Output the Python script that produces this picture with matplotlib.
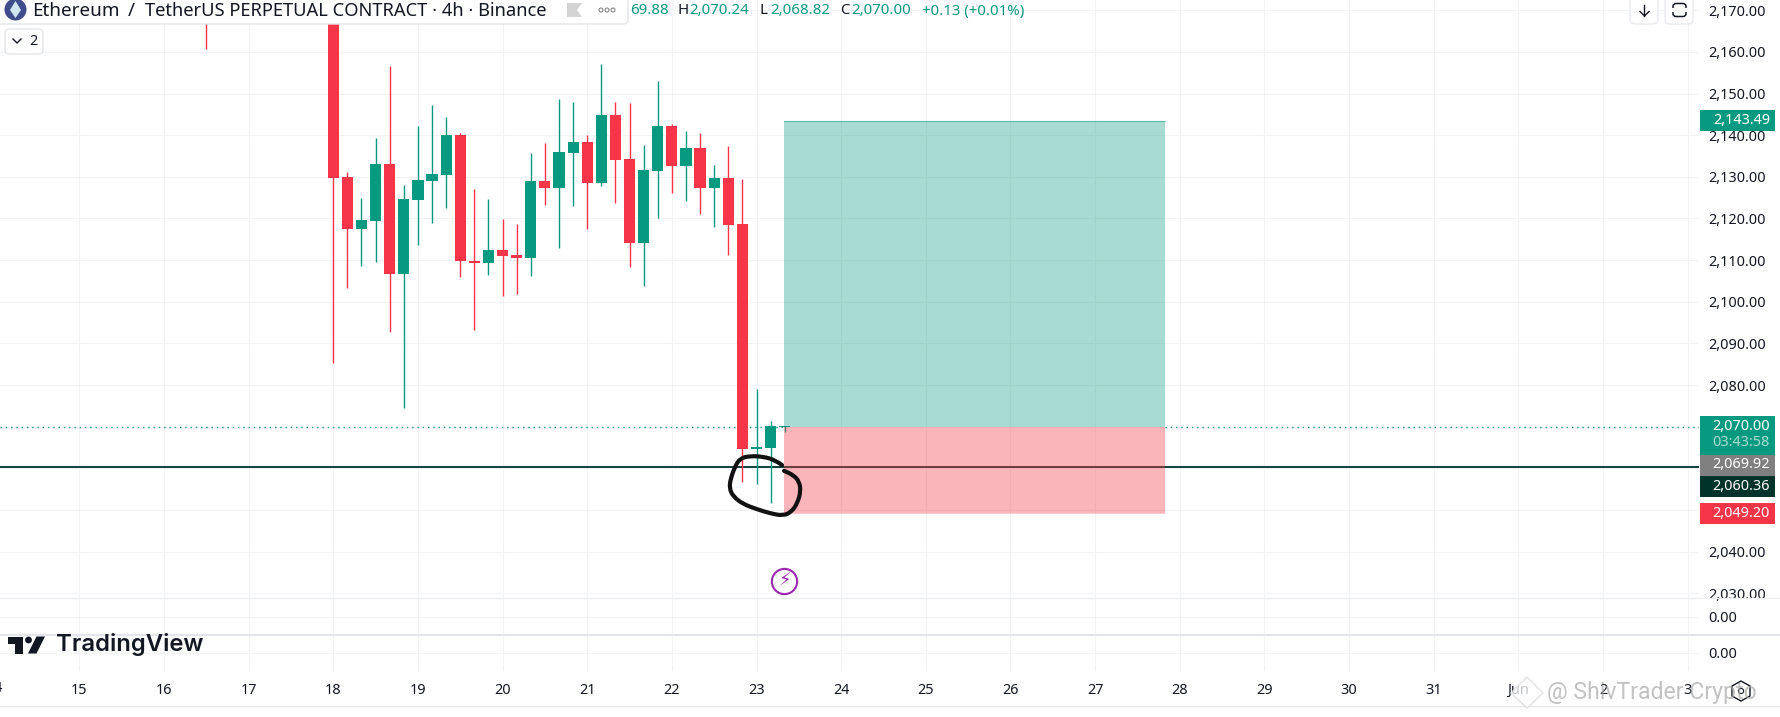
import matplotlib
matplotlib.use('Agg')
import matplotlib.pyplot as plt
from matplotlib.patches import Rectangle, Polygon, Circle, FancyBboxPatch, PathPatch
from matplotlib.path import Path

W, H = 1781, 717
GREEN = '#089981'
RED = '#f63648'
GRID = '#f2f3f5'
FONT = 'Noto Sans'

# --- chart data ---
days = [16.5] + [18 + i / 6 for i in range(33)]
opens = [2190, 2175, 2130.0, 2117.5, 2119.4, 2133.1, 2106.75, 2124.4, 2129.0, 2130.4, 2140.1, 2109.9, 2109.4,
         2112.4, 2111.2, 2110.6, 2129.0, 2127.4, 2135.7, 2138.4, 2128.5, 2144.9, 2134.3, 2114.1, 2131.4,
         2142.2, 2132.6, 2136.9, 2127.4, 2129.7, 2118.7, 2064.7, 2064.9, 2069.88]
closes = [2180, 2129.8, 2117.5, 2119.6, 2133.1, 2106.75, 2124.7, 2129.2, 2130.7, 2140.1, 2109.9, 2109.3, 2112.4,
          2111.1, 2110.6, 2129.0, 2127.4, 2136.0, 2138.4, 2128.5, 2144.9, 2134.05, 2114.1, 2131.6, 2142.2,
          2132.6, 2136.9, 2127.4, 2129.7, 2118.4, 2064.7, 2065.05, 2070.2, 2070.0]
highs = [2195, 2178, 2131.2, 2124.9, 2139.3, 2156.6, 2128.0, 2142.2, 2147.3, 2144.4, 2140.5, 2127.1, 2124.7,
         2119.9, 2118.7, 2135.7, 2138.1, 2148.7, 2148.0, 2140.1, 2157.1, 2148.0, 2147.7, 2137.6, 2153.0,
         2142.7, 2141.0, 2140.5, 2132.9, 2137.4, 2129.5, 2079.0, 2071.4, 2070.24]
lows = [2160.7, 2085.4, 2103.2, 2108.7, 2109.6, 2092.8, 2074.6, 2113.7, 2118.8, 2122.6, 2106.0, 2093.3, 2106.5,
        2101.5, 2101.9, 2106.3, 2123.3, 2112.8, 2123.1, 2117.5, 2127.9, 2123.6, 2108.4, 2103.9, 2120.2,
        2126.1, 2124.2, 2121.1, 2118.0, 2111.2, 2056.6, 2056.3, 2051.7, 2068.82]

price_ticks = list(range(2030, 2180, 10))
x_days = list(range(15, 35))
x_labels = ['15', '16', '17', '18', '19', '20', '21', '22', '23', '24', '25', '26', '27', '28', '29', '30', '31',
            'Jun', '2', '3']

last_price = 2070.00
support = 2060.36
target = 2143.49
stop = 2049.20
pos_left, pos_right = 23.33, 27.83

# hand drawn ring round the wicks
ring_days = [23.301, 23.219, 23.081, 22.923, 22.805, 22.746, 22.695, 22.679, 22.726, 22.844, 23.002, 23.159,
             23.317, 23.415, 23.482, 23.522, 23.506, 23.435, 23.325]
ring_prices = [2060.8, 2062.0, 2062.8, 2062.97, 2062.4, 2060.4, 2057.6, 2055.2, 2053.2, 2051.4, 2050.2, 2049.2,
               2048.6, 2049.6, 2051.6, 2054.4, 2056.8, 2058.4, 2059.4]
alert_day, alert_price = 23.33, 2033.0

plt.rcParams['font.family'] = [FONT, 'DejaVu Sans']
fig = plt.figure(figsize=(W / 100, H / 100), dpi=100, facecolor='white')


def px_axes(x0, y0, x1, y1):
    return fig.add_axes([x0 / W, 1 - y1 / H, (x1 - x0) / W, (y1 - y0) / H])


XLIM = (14.063, 34.134)

# --- price pane ---
ax = px_axes(0, 0, 1699, 598)
ax.set_xlim(*XLIM)
ax.set_ylim(2028.86, 2172.47)
ax.set_yticks(price_ticks)
ax.set_yticklabels([f'{p:,.2f}' for p in price_ticks], fontsize=10.4, color='#131722')
ax.set_xticks(x_days)
ax.yaxis.tick_right()
ax.tick_params(axis='y', length=0, pad=6.5)
ax.tick_params(axis='x', length=0, labelbottom=False)
ax.grid(color=GRID, linewidth=0.8)
ax.set_axisbelow(True)
for s in ax.spines.values():
    s.set_visible(False)

ax.axhline(support, color='#00332a', lw=1.3, zorder=2)
ax.plot([XLIM[0], pos_left], [last_price, last_price], color=GREEN, lw=1.0, ls=(0, (1, 2.8)), zorder=2)
ax.plot([pos_right, XLIM[1]], [last_price, last_price], color=GREEN, lw=1.0, ls=(0, (1, 2.8)), zorder=2)

# candles
for d, o, c, hi, lo in zip(days, opens, closes, highs, lows):
    col = GREEN if c >= o else RED
    ax.vlines(d, lo, hi, color=col, lw=1.0, zorder=3)
    ax.add_patch(Rectangle((d - 0.066, min(o, c)), 0.132, max(abs(c - o), 0.3), color=col, lw=0, zorder=3))

# long position box
ax.add_patch(Rectangle((pos_left, last_price), pos_right - pos_left, target - last_price,
                       facecolor=GREEN, alpha=0.35, lw=0, zorder=4))
ax.add_patch(Rectangle((pos_left, stop), pos_right - pos_left, last_price - stop,
                       facecolor='#f23645', alpha=0.37, lw=0, zorder=4))
ax.plot([pos_left, pos_right], [target, target], color=GREEN, lw=0.9, alpha=0.45, zorder=4)
ax.plot([pos_left, pos_right], [stop, stop], color=RED, lw=0.6, alpha=0.3, zorder=4)

# ring, smoothed through the midpoints
mids = [((ring_days[i] + ring_days[i + 1]) / 2, (ring_prices[i] + ring_prices[i + 1]) / 2)
        for i in range(len(ring_days) - 1)]
verts = [(ring_days[0], ring_prices[0])]
codes = [Path.MOVETO]
for i, m in enumerate(mids[:-1]):
    verts += [(ring_days[i + 1], ring_prices[i + 1]), mids[i + 1]]
    codes += [Path.CURVE3, Path.CURVE3]
verts.append((ring_days[-1], ring_prices[-1]))
codes.append(Path.LINETO)
ax.add_patch(PathPatch(Path(verts, codes), fill=False, edgecolor='#111111', lw=3.0, capstyle='round',
                       joinstyle='round', zorder=6))

# alert icon
ax.scatter([alert_day], [alert_price], s=330, facecolor='white', edgecolor='#9c27b0', linewidth=1.5, zorder=6)
ax.text(alert_day, alert_price, '\u26a1', family='DejaVu Sans', fontsize=13, fontweight='bold', color='#9c27b0',
        ha='center', va='center', zorder=7)

# --- empty lower panes ---
for (y0, y1, zero_px) in [(598, 634.7, 617), (634.7, 670.7, 653)]:
    p = px_axes(0, y0, 1699, y1)
    p.set_xlim(*XLIM)
    p.set_ylim(-(y1 - zero_px), zero_px - y0)
    p.set_yticks([0])
    p.set_yticklabels(['0.00'], fontsize=10.4, color='#131722')
    p.set_xticks(x_days)
    p.yaxis.tick_right()
    p.tick_params(axis='y', length=0, pad=6.5)
    p.tick_params(axis='x', length=0, labelbottom=False)
    p.grid(color=GRID, linewidth=0.8)
    for s in p.spines.values():
        s.set_visible(False)
    bottom = p
bottom.set_xticklabels(x_labels)
bottom.tick_params(axis='x', labelbottom=True, labelsize=10.4, labelcolor='#131722', pad=8.5)
for lab in bottom.get_xticklabels():
    if lab.get_text() == 'Jun':
        lab.set_fontweight('bold')

# --- page furniture drawn in pixel coordinates ---
ov = fig.add_axes([0, 0, 1, 1], facecolor='none')
ov.set_xlim(0, W)
ov.set_ylim(H, 0)
ov.axis('off')

for y, col, lw in [(598, '#eceef2', 0.9), (634.7, '#e3e5ea', 1.6), (705.7, '#e6e8ec', 1.0)]:
    ov.plot([0, W], [y, y], color=col, lw=lw)

ov.text(-5, 689, '14', fontsize=10.4, color='#131722', ha='center', va='center')

# price labels
for y0, y1, col in [(110, 130.7, GREEN), (416, 455, GREEN), (455, 476, '#808080'), (476, 496.7, '#00332a'),
                    (503, 524, RED)]:
    ov.add_patch(Rectangle((1700, y0), 75, y1 - y0, facecolor=col, lw=0, zorder=5))
for y, txt, col in [(120.3, f'{target:,.2f}', 'white'), (426, f'{last_price:,.2f}', 'white'),
                    (443, '03:43:58', '#a6dcd2'), (465, '2,069.92', 'white'), (486, f'{support:,.2f}', 'white'),
                    (513.5, f'{stop:,.2f}', 'white')]:
    ov.text(1770, y, txt, fontsize=10.4, fontweight='medium', color=col, ha='right', va='center', zorder=6)

# header strip
ov.add_patch(FancyBboxPatch((-6, -6), 634, 30, boxstyle='round,pad=0,rounding_size=5', facecolor='white',
                            edgecolor='#e4e6ea', lw=1.0, zorder=4))
ov.add_patch(Circle((15.5, 9.5), 11, facecolor='#3f4d8c', lw=0, zorder=5))
ov.add_patch(Polygon([(15.5, 1), (21, 10), (15.5, 18), (10, 10)], facecolor='#cfe6ee', lw=0, zorder=6))
ov.text(32, 11, 'Ethereum', fontsize=13.6, color='#131722', ha='left', va='center', zorder=6)
ov.text(128, 11, '/', fontsize=13.6, color='#131722', ha='left', va='center', zorder=6)
ov.text(145, 11, 'TetherUS PERPETUAL CONTRACT \u00b7 4h \u00b7 Binance', fontsize=13.2, color='#131722', ha='left',
        va='center', zorder=6)
ov.add_patch(Polygon([(567, 3), (582, 3), (577, 10), (582, 17), (567, 17)], facecolor='#d4d4d4', lw=0, zorder=6))
for xx in (601, 607, 613):
    ov.add_patch(Circle((xx, 10), 2, facecolor='white', edgecolor='#777777', lw=0.7, zorder=6))

# OHLC readout
for x, txt, col in [(630, '69.88', GREEN), (678, 'H', '#131722'), (689, '2,070.24', GREEN), (760, 'L', '#131722'),
                    (770, '2,068.82', GREEN), (840, 'C', '#131722'), (851, '2,070.00', GREEN),
                    (922, '+0.13 (+0.01%)', GREEN)]:
    ov.text(x, 11, txt, fontsize=10.8, color=col, ha='left', va='center', zorder=6)

# small buttons
ov.add_patch(FancyBboxPatch((5, 29), 38, 25, boxstyle='round,pad=0,rounding_size=4', facecolor='white',
                            edgecolor='#e4e6ea', lw=1.0, zorder=4))
ov.plot([13, 17, 21], [39, 43, 39], color='#131722', lw=1.0, zorder=6)
ov.text(33, 41.5, '2', fontsize=10.4, color='#131722', ha='center', va='center', zorder=6)
for x0 in (1630, 1665):
    ov.add_patch(FancyBboxPatch((x0, -6), 28, 30, boxstyle='round,pad=0,rounding_size=5', facecolor='white',
                                edgecolor='#e8eaee', lw=1.0, zorder=4))
ov.plot([1644.5, 1644.5], [5, 16], color='#131722', lw=1.0, zorder=6)
ov.plot([1640, 1644.5, 1649], [11.5, 16, 11.5], color='#131722', lw=1.0, zorder=6)
ov.add_patch(FancyBboxPatch((1673, 3.5), 13, 13, boxstyle='round,pad=0,rounding_size=3', facecolor='none',
                            edgecolor='#131722', lw=1.1, zorder=6))
ov.add_patch(Rectangle((1671, 8), 17, 4, facecolor='white', lw=0, zorder=6.5))

# TradingView logo
LOGO = '#131722'
ov.add_patch(Polygon([(8, 636.5), (23.5, 636.5), (23.5, 653.5), (15, 653.5), (15, 643.5), (8, 643.5)],
                     facecolor=LOGO, lw=0, zorder=6))
ov.add_patch(Circle((28.5, 640), 3.4, facecolor=LOGO, lw=0, zorder=6))
ov.add_patch(Polygon([(36.5, 636.5), (45, 636.5), (36.5, 653.5), (28, 653.5)], facecolor=LOGO, lw=0, zorder=6))
ov.text(56.5, 645, 'TradingView', family='Inter', fontweight='semibold', fontsize=17.2, color=LOGO, ha='left',
        va='center', zorder=6)

# watermark + clock icon
ov.add_patch(Polygon([(1527, 677), (1543, 693), (1527, 708), (1511, 693)], facecolor='#ffffff', alpha=0.75,
                     edgecolor='#dddddd', lw=1.2, zorder=7))
ov.add_patch(Polygon([(1741, 681), (1750, 686), (1750, 696), (1741, 701), (1732, 696), (1732, 686)], fill=False,
                     edgecolor='#131722', lw=1.0, zorder=6))
ov.add_patch(Circle((1741, 691), 2.6, fill=False, edgecolor='#131722', lw=0.8, zorder=6))
ov.text(1547, 693, '@ ShivTrader Crypto', family='Roboto', fontsize=16.6, color='#a8a8a8', alpha=0.7, ha='left',
        va='center', zorder=8)

fig.savefig('out.png', dpi=100)
